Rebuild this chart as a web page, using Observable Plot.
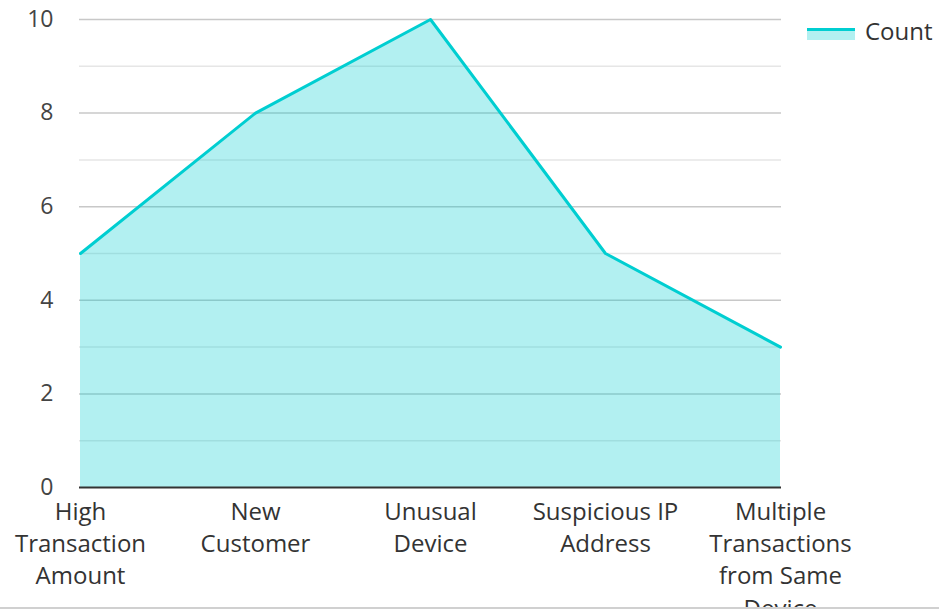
<!DOCTYPE html>
<html>
<head>
<meta charset="utf-8">
<script src="https://cdn.jsdelivr.net/npm/d3@7"></script>
<script src="https://cdn.jsdelivr.net/npm/@observablehq/plot@0.6"></script>
<style>
  html, body { margin: 0; padding: 0; background: #fff; }
  #wrap { position: relative; width: 939px; height: 607px; overflow: hidden; border-bottom: 2px solid #d0d0d0; font-family: "Open Sans", sans-serif; }
  #legend { position: absolute; left: 807px; top: 14px; display: flex; align-items: center; font-size: 24px; color: #333; }
  #legend .sw { width: 48px; height: 12px; margin-right: 10px; position: relative; top: 3px; background: rgba(0,206,209,0.3); border-top: 3px solid #00ced1; box-sizing: border-box; }
</style>
</head>
<body>
<div id="wrap"><div id="legend"><div class="sw"></div><span>Count</span></div></div>
<script>
const categories = ["High Transaction Amount", "New Customer", "Unusual Device", "Suspicious IP Address", "Multiple Transactions from Same Device"];
const tickLabels = ["High\nTransaction\nAmount", "New\nCustomer", "Unusual\nDevice", "Suspicious IP\nAddress", "Multiple\nTransactions\nfrom Same\nDevice"];
const counts = [5, 8, 10, 5, 3];
const seriesName = "Count";
const yTicks = [0, 2, 4, 6, 8, 10];
const yMinor = [1, 3, 5, 7, 9];

const data = categories.map((c, i) => ({category: c, label: tickLabels[i], count: counts[i]}));

const chart = Plot.plot({
  width: 939,
  height: 607,
  marginLeft: 79,
  marginRight: 158,
  marginTop: 19,
  marginBottom: 120,
  style: {fontFamily: "'Open Sans', sans-serif", fontSize: "24px", color: "#444", background: "transparent", overflow: "visible"},
  x: {type: "point", domain: categories, padding: 0, axis: null},
  y: {domain: [0, 10], axis: null},
  marks: [
    Plot.ruleY(yMinor, {stroke: "#e6e6e6", strokeWidth: 1.5, strokeOpacity: 1}),
    Plot.ruleY(yTicks.filter(d => d > 0), {stroke: "#c8c8c8", strokeWidth: 1.5, strokeOpacity: 1}),
    Plot.areaY(data, {x: "category", y: "count", fill: "#00ced1", fillOpacity: 0.3, curve: "linear"}),
    Plot.lineY(data, {x: "category", y: "count", stroke: "#00ced1", strokeWidth: 3, curve: "linear"}),
    Plot.ruleY([0], {stroke: "#333", strokeWidth: 2}),
    Plot.text(yTicks, {x: () => categories[0], y: d => d, text: d => String(d), dx: -27, textAnchor: "end", fill: "#444", fontSize: 23}),
    Plot.text(data, {x: "category", y: 0, text: "label", dy: 9, lineAnchor: "top", lineHeight: 1.35, fill: "#333", fontSize: 24})
  ]
});
document.getElementById("wrap").appendChild(chart);
</script>
</body>
</html>
